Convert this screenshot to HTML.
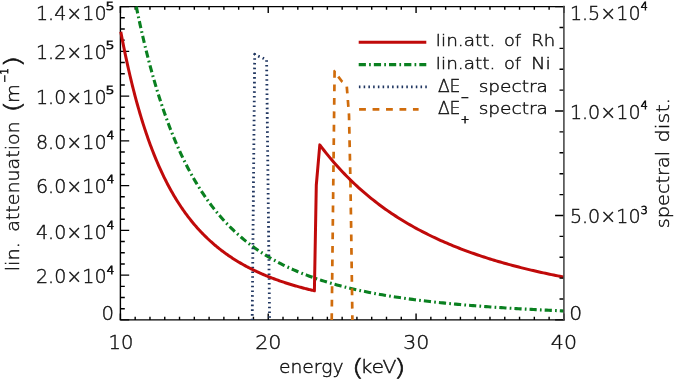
<!DOCTYPE html>
<html><head><meta charset="utf-8"><style>
html,body{margin:0;padding:0;background:#fff;width:675px;height:380px;overflow:hidden}
svg{display:block}
</style></head><body>
<svg width="675" height="380" viewBox="0 0 675 380"><rect width="675" height="380" fill="#fff"/><path d="M120.40,319.9v-6.3M120.40,6.6v6.3M135.18,319.9v-3.1M135.18,6.6v3.1M149.97,319.9v-3.1M149.97,6.6v3.1M164.75,319.9v-3.1M164.75,6.6v3.1M179.53,319.9v-3.1M179.53,6.6v3.1M194.32,319.9v-3.1M194.32,6.6v3.1M209.10,319.9v-3.1M209.10,6.6v3.1M223.88,319.9v-3.1M223.88,6.6v3.1M238.67,319.9v-3.1M238.67,6.6v3.1M253.45,319.9v-3.1M253.45,6.6v3.1M268.23,319.9v-6.3M268.23,6.6v6.3M283.02,319.9v-3.1M283.02,6.6v3.1M297.80,319.9v-3.1M297.80,6.6v3.1M312.58,319.9v-3.1M312.58,6.6v3.1M327.37,319.9v-3.1M327.37,6.6v3.1M342.15,319.9v-3.1M342.15,6.6v3.1M356.93,319.9v-3.1M356.93,6.6v3.1M371.72,319.9v-3.1M371.72,6.6v3.1M386.50,319.9v-3.1M386.50,6.6v3.1M401.28,319.9v-3.1M401.28,6.6v3.1M416.07,319.9v-6.3M416.07,6.6v6.3M430.85,319.9v-3.1M430.85,6.6v3.1M445.63,319.9v-3.1M445.63,6.6v3.1M460.42,319.9v-3.1M460.42,6.6v3.1M475.20,319.9v-3.1M475.20,6.6v3.1M489.98,319.9v-3.1M489.98,6.6v3.1M504.77,319.9v-3.1M504.77,6.6v3.1M519.55,319.9v-3.1M519.55,6.6v3.1M534.33,319.9v-3.1M534.33,6.6v3.1M549.12,319.9v-3.1M549.12,6.6v3.1M563.90,319.9v-6.3M563.90,6.6v6.3M120.4,319.90h8.8M120.4,308.71h4.4M120.4,297.52h4.4M120.4,286.33h4.4M120.4,275.14h8.8M120.4,263.95h4.4M120.4,252.76h4.4M120.4,241.57h4.4M120.4,230.39h8.8M120.4,219.20h4.4M120.4,208.01h4.4M120.4,196.82h4.4M120.4,185.63h8.8M120.4,174.44h4.4M120.4,163.25h4.4M120.4,152.06h4.4M120.4,140.87h8.8M120.4,129.68h4.4M120.4,118.49h4.4M120.4,107.30h4.4M120.4,96.11h8.8M120.4,84.93h4.4M120.4,73.74h4.4M120.4,62.55h4.4M120.4,51.36h8.8M120.4,40.17h4.4M120.4,28.98h4.4M120.4,17.79h4.4M120.4,6.60h8.8" stroke="#000" stroke-width="1.4" fill="none"/><path d="M564.65,6.6H120.4V319.9H564.65" fill="none" stroke="#000" stroke-width="1.4" stroke-linejoin="miter"/><g fill="none" stroke-linejoin="round"><polyline points="136.28,6.60 138.03,15.05 140.19,25.05 142.35,34.64 144.51,43.82 146.68,52.63 148.84,61.08 151.00,69.18 153.16,76.96 155.32,84.43 157.48,91.60 159.65,98.50 161.81,105.12 163.97,111.49 166.13,117.61 168.29,123.51 170.46,129.18 172.62,134.64 174.78,139.90 176.94,144.96 179.10,149.84 181.26,154.55 183.43,159.08 185.59,163.46 187.75,167.68 189.91,171.75 192.07,175.68 194.23,179.48 196.40,183.14 198.56,186.68 200.72,190.11 202.88,193.41 205.04,196.61 207.21,199.70 209.37,202.70 211.53,205.59 213.69,208.39 215.85,211.10 218.01,213.73 220.18,216.27 222.34,218.73 224.50,221.12 226.66,223.43 228.82,225.67 230.99,227.85 233.15,229.95 235.31,232.00 237.47,233.98 239.63,235.91 241.79,237.77 243.96,239.59 246.12,241.35 248.28,243.06 250.44,244.72 252.60,246.33 254.76,247.90 256.93,249.42 259.09,250.91 261.25,252.35 263.41,253.75 265.57,255.11 267.74,256.43 269.90,257.72 272.06,258.98 274.22,260.20 276.38,261.39 278.54,262.55 280.71,263.67 282.87,264.77 285.03,265.84 287.19,266.88 289.35,267.90 291.52,268.89 293.68,269.85 295.84,270.79 298.00,271.71 300.16,272.60 302.32,273.47 304.49,274.33 306.65,275.15 308.81,275.96 310.97,276.75 313.13,277.53 315.29,278.28 317.46,279.01 319.62,279.73 321.78,280.43 323.94,281.12 326.10,281.78 328.27,282.44 330.43,283.08 332.59,283.70 334.75,284.31 336.91,284.90 339.07,285.49 341.24,286.06 343.40,286.61 345.56,287.16 347.72,287.69 349.88,288.21 352.05,288.72 354.21,289.22 356.37,289.71 358.53,290.18 360.69,290.65 362.85,291.11 365.02,291.55 367.18,291.99 369.34,292.42 371.50,292.84 373.66,293.25 375.82,293.66 377.99,294.05 380.15,294.44 382.31,294.82 384.47,295.19 386.63,295.55 388.80,295.91 390.96,296.26 393.12,296.60 395.28,296.94 397.44,297.27 399.60,297.59 401.77,297.91 403.93,298.22 406.09,298.52 408.25,298.82 410.41,299.11 412.58,299.40 414.74,299.68 416.90,299.96 419.06,300.23 421.22,300.50 423.38,300.76 425.55,301.02 427.71,301.27 429.87,301.52 432.03,301.76 434.19,302.00 436.35,302.23 438.52,302.46 440.68,302.69 442.84,302.91 445.00,303.13 447.16,303.34 449.33,303.55 451.49,303.76 453.65,303.96 455.81,304.16 457.97,304.36 460.13,304.55 462.30,304.74 464.46,304.93 466.62,305.11 468.78,305.29 470.94,305.47 473.11,305.65 475.27,305.82 477.43,305.99 479.59,306.15 481.75,306.31 483.91,306.47 486.08,306.63 488.24,306.79 490.40,306.94 492.56,307.09 494.72,307.24 496.88,307.38 499.05,307.53 501.21,307.67 503.37,307.81 505.53,307.94 507.69,308.08 509.86,308.21 512.02,308.34 514.18,308.47 516.34,308.59 518.50,308.72 520.66,308.84 522.83,308.96 524.99,309.08 527.15,309.20 529.31,309.31 531.47,309.42 533.64,309.54 535.80,309.65 537.96,309.76 540.12,309.86 542.28,309.97 544.44,310.07 546.61,310.17 548.77,310.27 550.93,310.37 553.09,310.47 555.25,310.57 557.41,310.66 559.58,310.76 561.74,310.85 563.90,310.94" stroke="#0a8020" stroke-width="3.1" stroke-dasharray="7.2 3.2 1.7 3.05" stroke-dashoffset="0.3"/><polyline points="252.20,319.90 254.70,54.20 258.90,56.40 262.40,57.80 266.60,60.00 269.60,319.90" stroke="#1f3560" stroke-width="2.8" stroke-dasharray="1.55 3.19" stroke-dashoffset="0.48"/><polyline points="331.70,319.90 334.60,71.00 338.20,76.50 342.00,81.50 346.70,85.50 348.00,102.00 349.00,115.00 350.30,175.00 351.10,225.00 352.40,319.90" stroke="#d06c0c" stroke-width="2.7" stroke-dasharray="6.8 6.66" stroke-dashoffset="0.16"/><polyline points="120.79,31.70 121.21,33.95 122.02,38.20 122.84,42.35 123.65,46.42 124.46,50.41 125.27,54.33 126.08,58.16 126.89,61.92 127.71,65.61 128.52,69.22 129.33,72.77 130.14,76.25 130.95,79.66 131.76,83.00 132.58,86.28 133.39,89.51 134.20,92.67 135.01,95.77 135.82,98.81 136.63,101.80 137.45,104.73 138.26,107.61 139.07,110.44 139.88,113.22 140.69,115.94 141.50,118.62 142.32,121.25 143.13,123.83 143.94,126.37 144.75,128.86 145.56,131.31 146.37,133.72 147.19,136.09 148.00,138.41 148.81,140.69 149.62,142.94 150.43,145.15 151.25,147.32 152.06,149.45 152.87,151.55 153.68,153.61 154.49,155.64 155.30,157.63 156.12,159.59 156.93,161.52 157.74,163.42 158.55,165.28 159.36,167.12 160.17,168.93 160.99,170.71 161.80,172.45 162.61,174.18 163.42,175.87 164.23,177.54 165.04,179.18 165.86,180.79 166.67,182.38 167.48,183.95 168.29,185.49 169.10,187.01 169.91,188.50 170.73,189.98 171.54,191.42 172.35,192.85 173.16,194.26 173.97,195.64 174.78,197.00 175.60,198.35 176.41,199.67 177.22,200.98 178.03,202.26 178.84,203.53 179.66,204.77 180.47,206.00 181.28,207.21 182.09,208.41 182.90,209.58 183.71,210.74 184.53,211.89 185.34,213.01 186.15,214.12 186.96,215.22 187.77,216.30 188.58,217.36 189.40,218.41 190.21,219.45 191.02,220.47 191.83,221.48 192.64,222.47 193.45,223.45 194.27,224.41 195.08,225.37 195.89,226.31 196.70,227.23 197.51,228.15 198.32,229.05 199.14,229.94 199.95,230.82 200.76,231.69 201.57,232.54 202.38,233.38 203.19,234.22 204.01,235.04 204.82,235.85 205.63,236.65 206.44,237.44 207.25,238.22 208.07,238.99 208.88,239.75 209.69,240.50 210.50,241.24 211.31,241.98 212.12,242.70 212.94,243.41 213.75,244.12 214.56,244.81 215.37,245.50 216.18,246.18 216.99,246.85 217.81,247.51 218.62,248.16 219.43,248.81 220.24,249.44 221.05,250.07 221.86,250.69 222.68,251.31 223.49,251.92 224.30,252.52 225.11,253.11 225.92,253.69 226.73,254.27 227.55,254.84 228.36,255.41 229.17,255.97 229.98,256.52 230.79,257.06 231.61,257.60 232.42,258.14 233.23,258.66 234.04,259.18 234.85,259.70 235.66,260.20 236.48,260.71 237.29,261.20 238.10,261.69 238.91,262.18 239.72,262.66 240.53,263.13 241.35,263.60 242.16,264.07 242.97,264.53 243.78,264.98 244.59,265.43 245.40,265.87 246.22,266.31 247.03,266.74 247.84,267.17 248.65,267.60 249.46,268.02 250.27,268.43 251.09,268.84 251.90,269.25 252.71,269.65 253.52,270.05 254.33,270.44 255.14,270.83 255.96,271.21 256.77,271.59 257.58,271.97 258.39,272.34 259.20,272.71 260.02,273.08 260.83,273.44 261.64,273.79 262.45,274.15 263.26,274.50 264.07,274.84 264.89,275.19 265.70,275.52 266.51,275.86 267.32,276.19 268.13,276.52 268.94,276.85 269.76,277.17 270.57,277.49 271.38,277.80 272.19,278.11 273.00,278.42 273.81,278.73 274.63,279.03 275.44,279.33 276.25,279.63 277.06,279.92 277.87,280.21 278.68,280.50 279.50,280.79 280.31,281.07 281.12,281.35 281.93,281.63 282.74,281.90 283.55,282.17 284.37,282.44 285.18,282.71 285.99,282.97 286.80,283.23 287.61,283.49 288.43,283.75 289.24,284.00 290.05,284.25 290.86,284.50 291.67,284.75 292.48,284.99 293.30,285.23 294.11,285.47 294.92,285.71 295.73,285.94 296.54,286.18 297.35,286.41 298.17,286.64 298.98,286.86 299.79,287.09 300.60,287.31 301.41,287.53 302.22,287.75 303.04,287.96 303.85,288.18 304.66,288.39 305.47,288.60 306.28,288.81 307.09,289.02 307.91,289.22 308.72,289.42 309.53,289.62 310.34,289.82 311.15,290.02 311.96,290.22 312.78,290.41 313.59,290.60 314.40,290.79 316.30,185.00 319.80,144.87 321.85,147.57 323.90,150.22 325.95,152.81 328.01,155.35 330.06,157.84 332.11,160.27 334.16,162.65 336.21,164.99 338.26,167.28 340.31,169.52 342.36,171.71 344.42,173.86 346.47,175.97 348.52,178.04 350.57,180.07 352.62,182.06 354.67,184.00 356.72,185.91 358.77,187.79 360.83,189.63 362.88,191.43 364.93,193.20 366.98,194.93 369.03,196.63 371.08,198.31 373.13,199.95 375.18,201.55 377.24,203.13 379.29,204.69 381.34,206.21 383.39,207.70 385.44,209.17 387.49,210.61 389.54,212.03 391.59,213.42 393.65,214.79 395.70,216.13 397.75,217.45 399.80,218.74 401.85,220.02 403.90,221.27 405.95,222.50 408.00,223.71 410.06,224.89 412.11,226.06 414.16,227.21 416.21,228.34 418.26,229.45 420.31,230.54 422.36,231.62 424.41,232.67 426.47,233.71 428.52,234.73 430.57,235.74 432.62,236.73 434.67,237.70 436.72,238.66 438.77,239.60 440.82,240.52 442.88,241.44 444.93,242.33 446.98,243.22 449.03,244.09 451.08,244.94 453.13,245.79 455.18,246.62 457.23,247.43 459.29,248.24 461.34,249.03 463.39,249.81 465.44,250.58 467.49,251.34 469.54,252.08 471.59,252.82 473.64,253.54 475.70,254.26 477.75,254.96 479.80,255.65 481.85,256.33 483.90,257.01 485.95,257.67 488.00,258.32 490.05,258.96 492.11,259.60 494.16,260.22 496.21,260.84 498.26,261.45 500.31,262.05 502.36,262.64 504.41,263.22 506.46,263.79 508.52,264.36 510.57,264.92 512.62,265.47 514.67,266.01 516.72,266.55 518.77,267.07 520.82,267.60 522.87,268.11 524.93,268.62 526.98,269.12 529.03,269.61 531.08,270.10 533.13,270.58 535.18,271.05 537.23,271.52 539.28,271.98 541.34,272.44 543.39,272.89 545.44,273.33 547.49,273.77 549.54,274.20 551.59,274.63 553.64,275.05 555.69,275.47 557.75,275.88 559.80,276.28 561.85,276.68 563.90,277.08" stroke="#c00a0a" stroke-width="3"/></g><path d="M563.9,319.90h-8.8M563.9,299.01h-4.4M563.9,278.13h-4.4M563.9,257.24h-4.4M563.9,236.35h-4.4M563.9,215.47h-8.8M563.9,194.58h-4.4M563.9,173.69h-4.4M563.9,152.81h-4.4M563.9,131.92h-4.4M563.9,111.03h-8.8M563.9,90.15h-4.4M563.9,69.26h-4.4M563.9,48.37h-4.4M563.9,27.49h-4.4M563.9,6.60h-8.8" stroke="#000" stroke-width="1.4" fill="none"/><line x1="563.9" y1="5.85" x2="563.9" y2="320.65" stroke="#4a4a4a" stroke-width="1.6"/><line x1="358.7" y1="42.2" x2="426.3" y2="42.2" stroke="#c00a0a" stroke-width="3"/><line x1="358.7" y1="64.6" x2="426.3" y2="64.6" stroke="#0a8020" stroke-width="3.1" stroke-dasharray="7.2 3.2 1.7 3.05"/><line x1="358.9" y1="86.9" x2="427.0" y2="86.9" stroke="#1f3560" stroke-width="2.8" stroke-dasharray="1.55 3.19"/><line x1="359.1" y1="109.3" x2="418.6" y2="109.3" stroke="#d06c0c" stroke-width="2.8" stroke-dasharray="6.8 6.66"/><g font-family='"DejaVu Sans", "Liberation Sans", sans-serif' font-weight="200" fill="#111" stroke="#111" stroke-width="0.42"><text transform="translate(35.93,20.10) scale(0.9700,1.0000)" font-size="19.7">1.4×10</text><text transform="translate(105.46,10.20) scale(1.3400,1.0000)" font-size="10.6" stroke-width="0.8">5</text><text transform="translate(35.93,59.30) scale(0.9700,1.0000)" font-size="19.7">1.2×10</text><text transform="translate(105.46,49.40) scale(1.3400,1.0000)" font-size="10.6" stroke-width="0.8">5</text><text transform="translate(35.93,103.50) scale(0.9700,1.0000)" font-size="19.7">1.0×10</text><text transform="translate(105.46,93.60) scale(1.3400,1.0000)" font-size="10.6" stroke-width="0.8">5</text><text transform="translate(35.93,149.00) scale(0.9700,1.0000)" font-size="19.7">8.0×10</text><text transform="translate(106.80,139.10) scale(1.1167,1.0000)" font-size="10.6" stroke-width="0.8">4</text><text transform="translate(35.93,192.60) scale(0.9700,1.0000)" font-size="19.7">6.0×10</text><text transform="translate(106.80,182.70) scale(1.1167,1.0000)" font-size="10.6" stroke-width="0.8">4</text><text transform="translate(35.93,238.70) scale(0.9700,1.0000)" font-size="19.7">4.0×10</text><text transform="translate(106.80,228.80) scale(1.1167,1.0000)" font-size="10.6" stroke-width="0.8">4</text><text transform="translate(35.93,283.40) scale(0.9700,1.0000)" font-size="19.7">2.0×10</text><text transform="translate(106.80,273.50) scale(1.1167,1.0000)" font-size="10.6" stroke-width="0.8">4</text><text transform="translate(101.40,319.60) scale(1.0000,1.0000)" font-size="19.7">0</text><text transform="translate(569.88,19.80) scale(0.9700,1.0000)" font-size="19.7">1.5×10</text><text transform="translate(640.80,9.90) scale(1.0333,1.0000)" font-size="10.6" stroke-width="0.8">4</text><text transform="translate(569.88,119.05) scale(0.9700,1.0000)" font-size="19.7">1.0×10</text><text transform="translate(640.80,109.15) scale(1.0333,1.0000)" font-size="10.6" stroke-width="0.8">4</text><text transform="translate(569.88,223.40) scale(0.9700,1.0000)" font-size="19.7">5.0×10</text><text transform="translate(640.80,213.50) scale(1.0333,1.0000)" font-size="10.6" stroke-width="0.8">3</text><text transform="translate(569.37,320.40) scale(1.0300,1.0000)" font-size="19.7">0</text><text transform="translate(108.52,349.00) scale(0.9905,1.0000)" font-size="19.7">10</text><text transform="translate(255.15,349.20) scale(1.0500,1.0000)" font-size="19.7">20</text><text transform="translate(403.16,348.90) scale(1.0409,1.0000)" font-size="19.7">30</text><text transform="translate(550.86,349.10) scale(1.0409,1.0000)" font-size="19.7">40</text><text transform="translate(278.96,373.30) scale(1.0400,1.0000)" font-size="18.0">energy</text><text transform="translate(351.73,375.75) scale(1.7333,1.3250)" font-size="18.0">(</text><text transform="translate(360.39,373.30) scale(1.1357,1.0000)" font-size="18.0">keV</text><text transform="translate(393.73,375.75) scale(1.7333,1.3250)" font-size="18.0">)</text><text transform="translate(435.86,46.40) scale(1.1204,1.0000)" font-size="16.5">lin.att.</text><text transform="translate(504.03,46.40) scale(1.0733,1.0000)" font-size="16.5">of</text><text transform="translate(531.21,46.40) scale(1.0947,1.0000)" font-size="16.5">Rh</text><text transform="translate(435.86,69.00) scale(1.1204,1.0000)" font-size="16.5">lin.att.</text><text transform="translate(504.03,69.00) scale(1.0733,1.0000)" font-size="16.5">of</text><text transform="translate(531.06,69.00) scale(1.1692,1.0000)" font-size="16.5">Ni</text><text transform="translate(437.90,91.90) scale(0.9952,1.0000)" font-size="17.2">ΔE</text><text transform="translate(478.68,91.85) scale(1.1237,1.0000)" font-size="16.5">spectra</text><text transform="translate(437.90,114.10) scale(0.9952,1.0000)" font-size="17.2">ΔE</text><text transform="translate(478.68,114.00) scale(1.1237,1.0000)" font-size="16.5">spectra</text><text transform="translate(460.66,100.70) scale(0.9429,1.0000)" font-size="10.6" stroke-width="0.8">−</text><text transform="translate(460.63,123.20) scale(0.9714,1.0000)" font-size="10.6" stroke-width="0.8">+</text><text transform="translate(18.60,271.36) rotate(-90) scale(1.0783,1.0000)" font-size="18.0">lin.</text><text transform="translate(18.60,231.86) rotate(-90) scale(1.0578,1.0000)" font-size="18.0">attenuation</text><text transform="translate(20.56,112.47) rotate(-90) scale(1.6333,1.3187)" font-size="18.0">(</text><text transform="translate(18.60,103.04) rotate(-90) scale(1.0714,1.0000)" font-size="18.0">m</text><text transform="translate(8.30,82.68) rotate(-90) scale(0.9846,1.0000)" font-size="10.0" stroke-width="0.8">−1</text><text transform="translate(20.85,67.60) rotate(-90) scale(1.7000,1.3250)" font-size="18.0">)</text><text transform="translate(668.80,228.17) rotate(-90) scale(1.0696,1.0000)" font-size="18.0">spectral</text><text transform="translate(668.80,142.46) rotate(-90) scale(1.1571,1.0000)" font-size="18.0">dist.</text></g></svg>
</body></html>
